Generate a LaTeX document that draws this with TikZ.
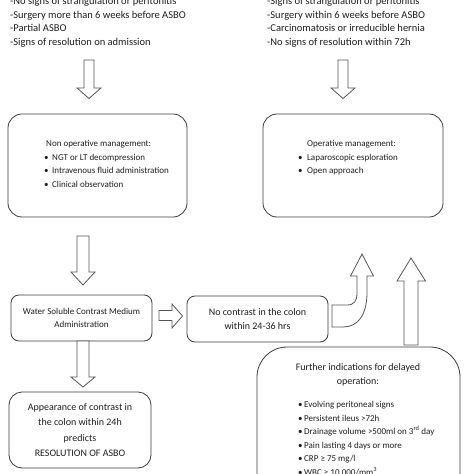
\documentclass[tikz,border=0pt]{standalone}
\usepackage{fontspec}
\setmainfont{Carlito}
\definecolor{linec}{HTML}{3C3C3C}
\definecolor{arrowc}{HTML}{555555}
\definecolor{txtc}{HTML}{1E1E1E}
\newcommand\bul[2]{\makebox[#1][l]{\textbullet}#2}
\begin{document}
\begin{tikzpicture}[x=1bp,y=-1bp,
  box/.style={draw=linec, line width=0.8bp, rounded corners=#1, inner sep=0},
  blk/.style={draw=arrowc, line width=0.8bp, fill=white, line join=miter},
  toptext/.style={font=\fontsize{10.5bp}{13.5bp}\selectfont, text=txtc, align=left, anchor=base west, inner sep=0},
  listtext/.style={font=\fontsize{9bp}{13.6bp}\selectfont, text=txtc, align=left, anchor=base west, inner sep=0},
  midtext/.style={font=\fontsize{10bp}{14.5bp}\selectfont, text=txtc, align=center, inner sep=0}]
\useasboundingbox (0,0) rectangle (474,474);
\fill[white] (0,0) rectangle (474,474);

% top criteria (anchored at the baseline of the last line)
\node[toptext] (ltext) at (10,45.5) {-No signs of strangulation or peritonitis\\-Surgery more than 6 weeks before ASBO\\-Partial ASBO\\-Signs of resolution on admission};
\node[toptext] (rtext) at (267,45.5) {-Signs of strangulation or peritonitis\\-Surgery within 6 weeks before ASBO\\-Carcinomatosis or irreducible hernia\\-No signs of resolution within 72h};

% boxes
\node[box=14bp, minimum width=179bp, minimum height=103bp] (nonop) at (97.5,165.5) {};
\node[listtext] (nonoptext) at (44,187.3) {\hspace{2bp}Non operative management:\\\bul{8bp}{NGT or LT decompression}\\\bul{8bp}{Intravenous fluid administration}\\\bul{8bp}{Clinical observation}};

\node[box=14bp, minimum width=180bp, minimum height=103bp] (op) at (353,165.5) {};
\node[listtext] (optext) at (298,173.7) {\hspace{9bp}Operative management:\\\bul{9bp}{Laparoscopic esploration}\\\bul{9bp}{Open approach}};

\node[box=8bp, minimum width=141bp, minimum height=46bp, listtext, anchor=center, align=center, font=\fontsize{9bp}{12.5bp}\selectfont] (wscm) at (81.5,318) {Water Soluble Contrast Medium\\Administration};

\node[box=8bp, minimum width=141bp, minimum height=46bp, midtext] (nocontrast) at (257.5,319) {No contrast in the colon\\within 24-36 hrs};

\node[box=13bp, minimum width=142bp, minimum height=76bp, midtext, font=\fontsize{10bp}{15.3bp}\selectfont] (appear) at (80,430) {Appearance of contrast in\\the colon within 24h\\predicts\\RESOLUTION OF ASBO};

\node[box=30bp, minimum width=203bp, minimum height=180bp] (further) at (358.5,437) {};
\node[midtext] (furtherhead) at (358,375) {Further indications for delayed\\operation:};
\node[listtext] (furthertext) at (298,475.5) {\bul{6bp}{Evolving peritoneal signs}\\\bul{6bp}{Persistent ileus >72h}\\\bul{6bp}{Drainage volume >500ml on 3\textsuperscript{rd} day}\\\bul{6bp}{Pain lasting  4 days or more}\\\bul{6bp}{CRP ≥ 75 mg/l}\\\bul{6bp}{WBC ≥ 10.000/mm\textsuperscript{3}}};

% block arrows
\draw[blk] (84,60) -- (84,88) -- (77,88) -- (89,98.5) -- (101,88) -- (94,88) -- (94,60) -- cycle;
\draw[blk] (338,60) -- (338,88) -- (331,88) -- (343,98.5) -- (355,88) -- (348,88) -- (348,60) -- cycle;
\draw[blk] (77,236) -- (77,272) -- (71,272) -- (83,285) -- (95,272) -- (89,272) -- (89,236) -- cycle;
\draw[blk] (77,341) -- (77,377) -- (71,377) -- (83,387) -- (95,377) -- (89,377) -- (89,341) -- cycle;
\draw[blk] (159,310.5) -- (172,310.5) -- (172,304) -- (182.5,316) -- (172,328) -- (172,320.5) -- (159,320.5) -- cycle;
\draw[blk] (332,305) -- (347,305) .. controls (354,305) and (357,301) .. (357,293) -- (357,276) -- (350.5,276) -- (362,254) -- (373.5,276) -- (367,276) -- (367,292) .. controls (367,315) and (358,327) .. (343,327) -- (332,327) -- cycle;
\draw[blk] (404,345) -- (404,281) -- (397,281) -- (411,258) -- (425.5,281) -- (418,281) -- (418,345) -- cycle;
\end{tikzpicture}
\end{document}
